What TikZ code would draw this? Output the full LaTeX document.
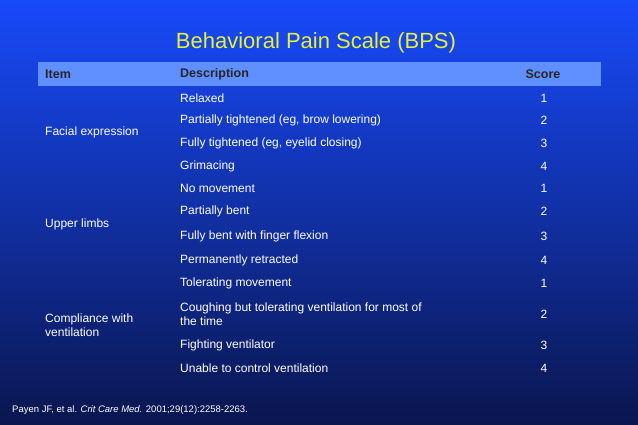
\documentclass[tikz,border=0pt]{standalone}
\usepackage{fontspec}
\setmainfont{Liberation Sans}
\begin{document}
\begin{tikzpicture}[x=1pt,y=-1pt,
  txt/.style={text=white,font=\fontsize{12}{13.5}\selectfont,inner sep=0pt},
  lft/.style={txt,anchor=west},
  sc/.style={txt,anchor=center},
  hdr/.style={text=black!85,font=\bfseries\fontsize{12.5}{14}\selectfont,inner sep=0pt}]
\shade[top color={rgb,255:red,24;green,74;blue,250},bottom color={rgb,255:red,10;green,22;blue,78}] (0,0) rectangle (638,425);
\useasboundingbox (0,0) rectangle (638,425);
\node[text={rgb,255:red,230;green,240;blue,60},font=\fontsize{22}{24}\selectfont,inner sep=0pt] (title) at (316,43) {Behavioral Pain Scale (BPS)};
\fill[fill={rgb,255:red,96;green,144;blue,255}] (38,62) rectangle (601,86);
\node[hdr,anchor=west] (h1) at (45,74) {Item};
\node[hdr,anchor=west] (h2) at (180,74) {Description};
\node[hdr] (h3) at (543,74) {Score};
\node[lft] (i1) at (45,132) {Facial expression};
\node[lft] (i2) at (45,224) {Upper limbs};
\node[lft,align=left] (i3) at (45,325) {Compliance with\\ventilation};
\foreach \y/\d/\s [count=\k] in {98/Relaxed/1,120/{Partially tightened (eg, brow lowering)}/2,143/{Fully tightened (eg, eyelid closing)}/3,166/Grimacing/4,188/No movement/1,211/Partially bent/2,236/Fully bent with finger flexion/3,260/Permanently retracted/4,283/Tolerating movement/1,345/Fighting ventilator/3,368/Unable to control ventilation/4}{
  \node[lft] (d\k) at (180,\y) {\d};
  \node[sc] (s\k) at (544,\y) {\s};
}
\node[lft,align=left] (dc) at (180,314) {Coughing but tolerating ventilation for most of\\the time};
\node[sc] (sc2) at (544,314) {2};
\node[text=white,font=\fontsize{9.5}{11}\selectfont,inner sep=0pt,anchor=west] (ref) at (12,410) {Payen JF, et al. \textit{Crit Care Med.} 2001;29(12):2258-2263.};
\end{tikzpicture}
\end{document}
